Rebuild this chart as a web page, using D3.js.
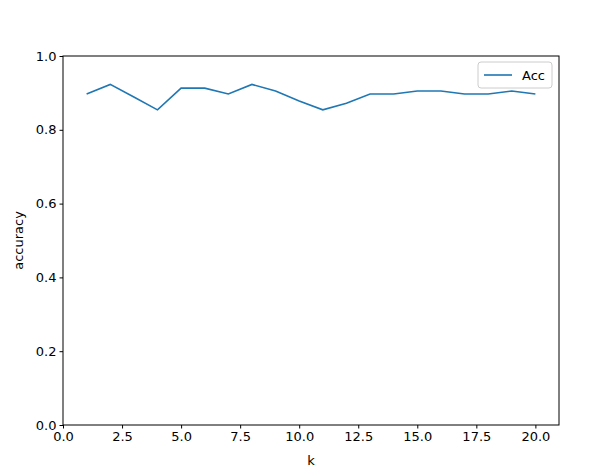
<!DOCTYPE html>
<html><head><meta charset="utf-8">
<script src="https://cdn.jsdelivr.net/npm/d3@7"></script>
<style>body{margin:0;background:#fff}text{font-family:"DejaVu Sans",sans-serif}</style>
</head><body><div id="chart"></div>
<script>
const ks = d3.range(1, 21);
const acc = [0.897,0.923,0.889,0.854,0.913,0.913,0.897,0.923,0.905,0.878,0.854,0.872,0.897,0.897,0.905,0.905,0.897,0.897,0.905,0.897];
const xTicks = [0,2.5,5,7.5,10,12.5,15,17.5,20];
const yTicks = [0,0.2,0.4,0.6,0.8,1.0];

const W = 616, H = 472;
const margin = {top: 56, right: 57, bottom: 47, left: 63};
const svg = d3.select("#chart").append("svg").attr("width", W).attr("height", H);
const x = d3.scaleLinear().domain([0, 21]).range([margin.left, W - margin.right]);
const y = d3.scaleLinear().domain([0, 1]).range([H - margin.bottom, margin.top]);

svg.append("g").attr("transform", `translate(0,${H - margin.bottom})`)
  .call(d3.axisBottom(x).tickValues(xTicks).tickFormat(d3.format(".1f")).tickSizeOuter(0).tickSize(3.5))
  .call(g => g.selectAll("text").attr("font-size", 13).attr("fill", "#000"));
svg.append("g").attr("transform", `translate(${margin.left},0)`)
  .call(d3.axisLeft(y).tickValues(yTicks).tickFormat(d3.format(".1f")).tickSizeOuter(0).tickSize(3.5))
  .call(g => g.selectAll("text").attr("font-size", 13).attr("fill", "#000"));
svg.selectAll(".domain").remove();
svg.append("rect").attr("x", margin.left).attr("y", margin.top)
  .attr("width", x(21) - margin.left).attr("height", y(0) - margin.top)
  .attr("fill", "none").attr("stroke", "#000").attr("stroke-width", 1);

svg.append("path").datum(ks.map((k, i) => [k, acc[i]]))
  .attr("fill", "none").attr("stroke", "#1f77b4").attr("stroke-width", 1.6)
  .attr("d", d3.line().x(d => x(d[0])).y(d => y(d[1])));

svg.append("text").attr("x", (margin.left + x(21)) / 2).attr("y", 465)
  .attr("text-anchor", "middle").attr("font-size", 13).text("k");
svg.append("text").attr("transform", `translate(23,${(margin.top + y(0)) / 2}) rotate(-90)`)
  .attr("text-anchor", "middle").attr("font-size", 13).text("accuracy");

const lg = svg.append("g").attr("transform", "translate(478,62)");
lg.append("rect").attr("width", 74).attr("height", 26).attr("rx", 3)
  .attr("fill", "#fff").attr("stroke", "#ccc");
lg.append("line").attr("x1", 6).attr("x2", 34).attr("y1", 13).attr("y2", 13)
  .attr("stroke", "#1f77b4").attr("stroke-width", 1.6);
lg.append("text").attr("x", 44).attr("y", 17.5).attr("font-size", 13).text("Acc");
</script></body></html>
